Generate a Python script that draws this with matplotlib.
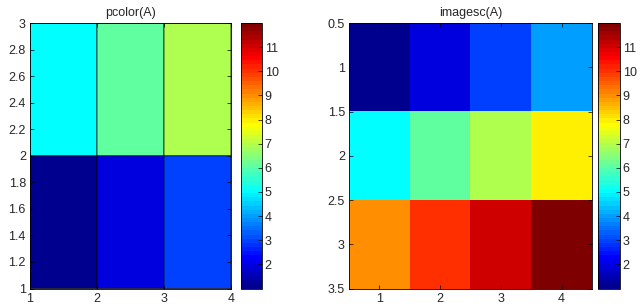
import numpy as np
import matplotlib
matplotlib.use("Agg")
import matplotlib.pyplot as plt
from matplotlib.colors import ListedColormap, Normalize
from matplotlib.cm import ScalarMappable

plt.rcParams['font.family'] = ['Liberation Sans', 'DejaVu Sans']
plt.rcParams['font.size'] = 9

# the matrix shown by both plots
A = [[1, 2, 3, 4],
     [5, 6, 7, 8],
     [9, 10, 11, 12]]
pcolor_xticks = [1, 2, 3, 4]
pcolor_yticks = [1, 1.2, 1.4, 1.6, 1.8, 2, 2.2, 2.4, 2.6, 2.8, 3]
img_xticks = [1, 2, 3, 4]
img_yticks = [0.5, 1, 1.5, 2, 2.5, 3, 3.5]
cbar_ticks = [2, 3, 4, 5, 6, 7, 8, 9, 10, 11]


def matlab_jet(m=64):
    # same construction as MATLAB's jet(m)
    n = int(np.ceil(m / 4))
    u = np.concatenate([np.arange(1, n + 1) / n, np.ones(n - 1), np.arange(n, 0, -1) / n])
    g = int(np.ceil(n / 2)) - (1 if m % 4 == 1 else 0) + np.arange(1, len(u) + 1)
    r = g + n
    b = g - n
    J = np.zeros((m, 3))
    J[r[r <= m] - 1, 0] = u[r <= m]
    J[g[g <= m] - 1, 1] = u[g <= m]
    J[b[b >= 1] - 1, 2] = u[b >= 1]
    return ListedColormap(J)


cmap = matlab_jet(64)
data = np.array(A, dtype=float)
norm = Normalize(vmin=data.min(), vmax=data.max())

W, H = 640, 308
fig = plt.figure(figsize=(W / 100, H / 100), dpi=100)
txt = '#262626'


def px_axes(x0, y0, x1, y1):
    return fig.add_axes([x0 / W, (H - y1) / H, (x1 - x0) / W, (y1 - y0) / H])


def style(ax):
    ax.tick_params(direction='in', length=3, width=0.5, top=True, right=True,
                   labelsize=9, colors='black', labelcolor=txt, pad=3)
    for s in ax.spines.values():
        s.set_linewidth(0.6)


def add_cbar(cax):
    cb = fig.colorbar(ScalarMappable(norm=norm, cmap=cmap), cax=cax)
    cb.set_ticks(cbar_ticks)
    cb.outline.set_linewidth(0.6)
    cax.tick_params(direction='in', length=3, width=0.5, labelsize=9,
                    labelcolor=txt, pad=2)
    return cb


# pcolor(A)
ax1 = px_axes(30, 23, 231, 288.5)
nrows, ncols = data.shape
xe = np.arange(1, ncols + 1)
ye = np.arange(1, nrows + 1)
ax1.pcolor(xe, ye, data[:-1, :-1], cmap=cmap, norm=norm,
           edgecolors='black', linewidth=0.5)
ax1.set_xlim(1, ncols)
ax1.set_ylim(1, nrows)
ax1.set_xticks(pcolor_xticks)
ax1.set_yticks(pcolor_yticks)
ax1.set_yticklabels([('%g' % v) for v in pcolor_yticks])
ax1.set_title('pcolor(A)', fontsize=9, pad=5, color=txt)
style(ax1)
add_cbar(px_axes(241, 23, 262, 288.5))

# imagesc(A)
ax2 = px_axes(349, 23, 592, 288.5)
ax2.imshow(data, cmap=cmap, norm=norm, aspect='auto', interpolation='nearest',
           extent=[0.5, ncols + 0.5, nrows + 0.5, 0.5])
ax2.set_xticks(img_xticks)
ax2.set_yticks(img_yticks)
ax2.set_yticklabels([('%g' % v) for v in img_yticks])
ax2.set_title('imagesc(A)', fontsize=9, pad=5, color=txt)
style(ax2)
add_cbar(px_axes(598, 23, 620, 288.5))

fig.savefig('out.png', dpi=100)
